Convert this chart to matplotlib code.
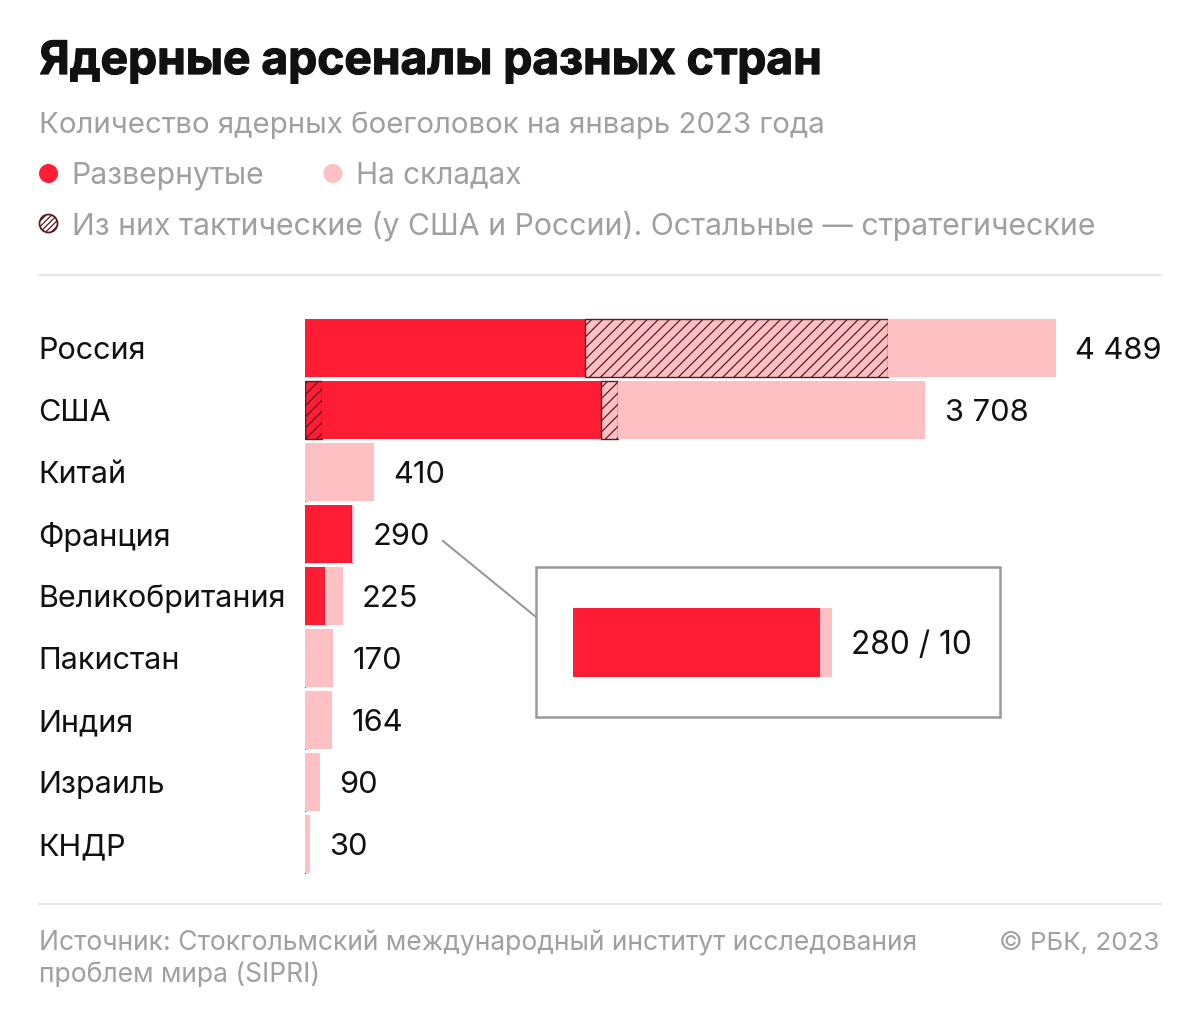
"""Nuclear arsenals by country, RBC style horizontal stacked bars."""

import matplotlib

matplotlib.use("Agg")
import matplotlib.patheffects as pe
import matplotlib.pyplot as plt
from matplotlib.patches import Circle, Rectangle

WIDTH, HEIGHT = 1200, 1020

countries = ["Россия", "США", "Китай", "Франция", "Великобритания",
             "Пакистан", "Индия", "Израиль", "КНДР"]
total_labels = ["4 489", "3 708", "410", "290", "225", "170", "164", "90", "30"]

# segments in drawing order, hatched ones are tactical warheads
deployed_tactical = [0, 100, 0, 0, 0, 0, 0, 0, 0]
deployed_strategic = [1674, 1670, 0, 280, 120, 0, 0, 0, 0]
stored_tactical = [1812, 100, 0, 0, 0, 0, 0, 0, 0]
stored_other = [1003, 1838, 410, 10, 105, 170, 164, 90, 30]

# inset widths as drawn in the picture, not exactly to the 280 / 10 label
france_deployed = 277
france_stored = 13
france_label = "280 / 10"

RED = "#ff1c35"
PINK = "#ffc0c4"
DARK = "#5c1a22"
GREY = "#a0a0a0"
BLACK = "#111111"
LINE = "#e2e2e2"
BOX = "#999999"

plt.rcParams["font.family"] = ["Inter", "DejaVu Sans"]
plt.rcParams["hatch.linewidth"] = 0.9

fig = plt.figure(figsize=(WIDTH / 100, HEIGHT / 100), dpi=100, facecolor="white")


def px_axes(left, top, right, bottom):
    """Axes placed by pixel box of the 1200x1020 figure."""
    return fig.add_axes([left / WIDTH, 1 - bottom / HEIGHT,
                         (right - left) / WIDTH, (bottom - top) / HEIGHT])


# overlay in pixel coordinates for the texts and rules
page = px_axes(0, 0, WIDTH, HEIGHT)
page.set_xlim(0, WIDTH)
page.set_ylim(HEIGHT - 1, -1)
page.axis("off")

title = page.text(39.5, 62, "Ядерные арсеналы разных стран", fontsize=33.2, fontweight="bold",
                  color=BLACK, va="center")
title.set_path_effects([pe.withStroke(linewidth=0.9, foreground=BLACK)])
page.text(39, 124.5, "Количество ядерных боеголовок на январь 2023 года",
          fontsize=21.2, color=GREY, va="center")

page.add_patch(Circle((48.5, 173.5), 9.5, fc=RED, ec="none"))
page.text(71, 175, "Развернутые", fontsize=21.7, color=GREY, va="center")
page.add_patch(Circle((333, 173.5), 9.5, fc=PINK, ec="none"))
page.text(356.5, 174.5, "На складах", fontsize=21.4, color=GREY, va="center")
page.add_patch(Circle((48.5, 223.5), 9, fc="white", ec=DARK, lw=1.3, hatch="//////"))
page.text(72, 224.5, "Из них тактические (у США и России). Остальные — стратегические",
          fontsize=21.75, color=GREY, va="center")

page.plot([39, 1161], [275, 275], color=LINE, lw=1.2)
page.plot([39, 1161], [904, 904], color=LINE, lw=1.2)

page.text(39, 943, "Источник: Стокгольмский международный институт исследования",
          fontsize=19.05, color=GREY, va="center")
page.text(39, 974, "проблем мира (SIPRI)", fontsize=19.05, color=GREY, va="center")
page.text(1159, 943, "© РБК, 2023", fontsize=18.7, color=GREY, va="center", ha="right")

# callout from the France label to the inset
page.plot([443, 536], [541, 617], color=BOX, lw=1.5)
page.add_patch(Rectangle((536, 567), 464, 150, fc="white", ec=BOX, lw=1.8))

# main bars
ax = px_axes(305, 318, 1161, 876)
ax.patch.set_alpha(0)
ax.set_xlim(0, 856 / (751 / 4489))
ax.set_ylim(len(countries) - 0.5, -0.5)
ax.axis("off")

left = [0] * len(countries)
segments = [
    (deployed_tactical, RED, DARK, "///"),
    (deployed_strategic, RED, "none", None),
    (stored_tactical, PINK, DARK, "///"),
    (stored_other, PINK, "none", None),
]
for values, face, edge, hatch in segments:
    ax.barh(range(len(countries)), values, left=left, height=0.92,
            color=face, edgecolor=edge, hatch=hatch, linewidth=1.0 if hatch else 0)
    left = [a + b for a, b in zip(left, values)]

for i, (name, label, end) in enumerate(zip(countries, total_labels, left)):
    ax.annotate(label, (end, i), xytext=(14, -1.5), textcoords="offset points",
                fontsize=22.2, color=BLACK, va="center")
    page.text(38, 350 + 62 * i, name, fontsize=22, color=BLACK, va="center")

# France inset
inset = px_axes(573, 609, 832, 678)
inset.patch.set_alpha(0)
inset.set_xlim(0, france_deployed + france_stored)
inset.set_ylim(-0.5, 0.5)
inset.axis("off")
inset.barh(0, france_deployed, height=1, color=RED, linewidth=0)
inset.barh(0, france_stored, left=france_deployed, height=1, color=PINK, linewidth=0)
page.text(851, 645, france_label, fontsize=22.8, color=BLACK, va="center")

fig.savefig("out.png", dpi=100)
